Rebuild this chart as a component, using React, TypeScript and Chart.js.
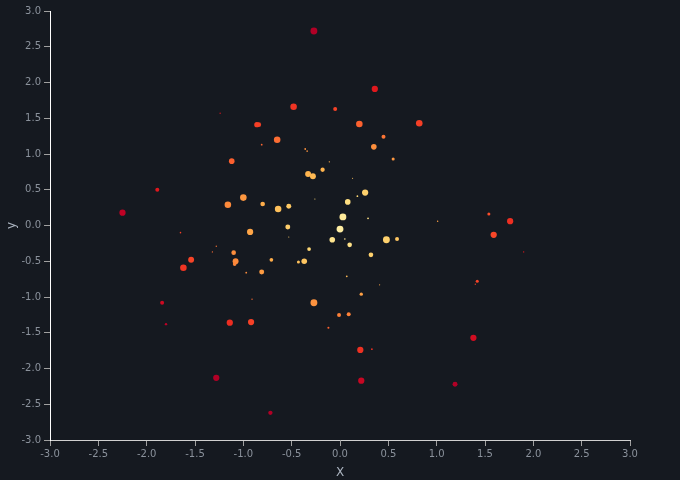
import { useEffect, useRef } from "react"
import { Chart, registerables } from "chart.js"

Chart.register(...registerables)

// point positions
const xs = [
  -0.27, 0.36, -0.48, -0.05, -1.24, 0.2, 0.82, -0.86, -0.84, 0.45,
  -0.65, -0.81, 0.35, -0.36, -0.34, -1.12, 0.55, -0.11, -0.18, -0.33,
  -0.28, 0.13, -1.89, 0.26, -1.0, 0.18, 0.08, -1.16, -0.8, -0.53,
  -0.64, -0.26, -2.25, 1.54, 0.03, 0.29, 1.01, 1.76, -0.54, 0.0,
  -1.65, 1.59, -0.93, 0.48, 0.59, -0.08, 0.05, -0.53, 0.1, -0.32,
  0.32, -0.71, -0.43, -0.37, -0.81, -0.97, 0.07, 0.22, -0.91, -0.27,
  -1.28, -1.32, -1.1, -1.08, -1.09, -1.54, -1.62, -1.84, -1.8, -1.14,
  -0.92, -1.28, -0.72, 1.9, 1.42, 1.4, -0.01, 0.09, -0.12, 0.21,
  0.33, 1.38, 0.22, 1.19, 0.41,
]
const ys = [
  2.72, 1.91, 1.66, 1.63, 1.57, 1.42, 1.43, 1.41, 1.41, 1.24,
  1.2, 1.13, 1.1, 1.07, 1.04, 0.9, 0.93, 0.89, 0.78, 0.72,
  0.69, 0.66, 0.5, 0.46, 0.39, 0.41, 0.33, 0.29, 0.3, 0.27,
  0.23, 0.37, 0.18, 0.16, 0.12, 0.1, 0.06, 0.06, -0.02, -0.05,
  -0.1, -0.13, -0.09, -0.2, -0.19, -0.2, -0.19, -0.16, -0.27, -0.33,
  -0.41, -0.48, -0.51, -0.5, -0.65, -0.66, -0.71, -0.96, -1.03, -1.08,
  -0.29, -0.37, -0.38, -0.5, -0.54, -0.48, -0.59, -1.08, -1.38, -1.36,
  -1.35, -2.13, -2.62, -0.37, -0.78, -0.82, -1.25, -1.24, -1.43, -1.74,
  -1.73, -1.57, -2.17, -2.22, -0.83,
]
// relative marker magnitude (0..1)
const mags = [
  0.95, 0.85, 0.9, 0.5, 0.08, 0.9, 0.9, 0.7, 0.6, 0.5,
  0.9, 0.15, 0.75, 0.15, 0.12, 0.75, 0.35, 0.1, 0.55, 0.8,
  0.8, 0.05, 0.5, 0.85, 0.9, 0.15, 0.75, 0.9, 0.6, 0.65,
  0.9, 0.05, 0.85, 0.35, 0.95, 0.15, 0.1, 0.85, 0.65, 0.95,
  0.12, 0.85, 0.85, 0.95, 0.5, 0.75, 0.12, 0.05, 0.6, 0.45,
  0.6, 0.45, 0.35, 0.75, 0.65, 0.15, 0.15, 0.4, 0.1, 0.95,
  0.08, 0.08, 0.6, 0.8, 0.45, 0.8, 0.9, 0.5, 0.25, 0.85,
  0.85, 0.85, 0.55, 0.08, 0.35, 0.08, 0.5, 0.5, 0.2, 0.85,
  0.15, 0.85, 0.85, 0.65, 0.05,
]

const ylOrRd = [
  [255, 255, 204], [255, 237, 160], [254, 217, 118], [254, 178, 76],
  [253, 141, 60], [252, 78, 42], [227, 26, 28], [189, 0, 38], [128, 0, 38],
]

function colorAt(t: number) {
  const p = Math.max(0, Math.min(0.9, t)) * (ylOrRd.length - 1)
  const i = Math.min(Math.floor(p), ylOrRd.length - 2)
  const f = p - i
  const a = ylOrRd[i]
  const b = ylOrRd[i + 1]
  const c = a.map((v, k) => Math.round(v + (b[k] - v) * f))
  return `rgb(${c[0]}, ${c[1]}, ${c[2]})`
}

const tickFont = { family: "'DejaVu Sans', sans-serif", size: 10 }
const titleFont = { family: "'DejaVu Sans', sans-serif", size: 12 }

export default function App() {
  const canvasRef = useRef<HTMLCanvasElement>(null)

  useEffect(() => {
    document.body.style.margin = "0"
    if (!canvasRef.current) return
    const ctx = canvasRef.current.getContext("2d")
    if (!ctx) return

    const points = xs.map((x, i) => ({ x, y: ys[i] }))
    // colour by distance from the origin
    const colors = xs.map((x, i) => colorAt(0.1 + Math.hypot(x, ys[i]) * 0.34))
    const radii = mags.map((m) => 0.4 + m * 3.2)

    const chart = new Chart(ctx, {
      type: "scatter",
      data: {
        datasets: [
          {
            data: points,
            backgroundColor: colors,
            pointRadius: radii,
            pointBorderWidth: 0,
            borderWidth: 0,
          },
        ],
      },
      options: {
        animation: false,
        responsive: true,
        maintainAspectRatio: false,
        layout: { padding: { top: 11, right: 50, bottom: 0, left: 0 } },
        plugins: { legend: { display: false }, tooltip: { enabled: false } },
        scales: {
          x: {
            type: "linear",
            min: -3,
            max: 3,
            afterFit: (scale: any) => {
              scale.height = 40
            },
            ticks: {
              stepSize: 0.5,
              color: "#8b929c",
              font: tickFont,
              padding: 2,
              maxRotation: 0,
              callback: (v: any) => Number(v).toFixed(1),
            },
            grid: { drawOnChartArea: false, tickLength: 6, color: "#a0a0a0" },
            border: { color: "#d0d0d0", width: 1 },
            title: {
              display: true,
              text: "X",
              color: "#aab3bf",
              font: titleFont,
              padding: { top: 0, bottom: 0 },
            },
          },
          y: {
            type: "linear",
            min: -3,
            max: 3,
            afterFit: (scale: any) => {
              scale.width = 50
            },
            ticks: {
              stepSize: 0.5,
              color: "#8b929c",
              font: tickFont,
              padding: 3,
              callback: (v: any) => Number(v).toFixed(1),
            },
            grid: { drawOnChartArea: false, tickLength: 6, color: "#a0a0a0" },
            border: { color: "#ffffff", width: 1 },
            title: {
              display: true,
              text: "y",
              color: "#aab3bf",
              font: titleFont,
              padding: { top: 5, bottom: 0 },
            },
          },
        },
      },
    })

    return () => chart.destroy()
  }, [])

  return (
    <div style={{ width: 680, height: 480, background: "#151920", position: "relative" }}>
      <canvas ref={canvasRef} />
    </div>
  )
}
